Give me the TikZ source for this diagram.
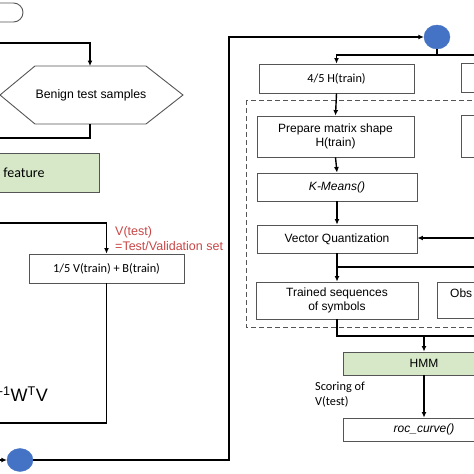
\documentclass[tikz,border=0pt]{standalone}
\usepackage{fontspec}
\setmainfont{Liberation Sans}
\newfontfamily\calibrifont{Carlito}
\usetikzlibrary{arrows.meta,shapes.geometric}
\definecolor{boxline}{RGB}{85,85,85}
\definecolor{greenfill}{RGB}{214,232,200}
\definecolor{bluedot}{RGB}{68,114,196}
\definecolor{redtext}{RGB}{200,70,70}
\tikzset{
  box/.style={draw=boxline, line width=0.9pt, fill=white, inner sep=1pt, align=center,
              font=\fontsize{12}{14}\selectfont},
  cbox/.style={box, font=\calibrifont\fontsize{12.3}{14}\selectfont},
  gbox/.style={box, fill=greenfill},
  conn/.style={line width=1.4pt, draw=black},
  arr/.style={conn, -{Latex[length=5.5pt,width=5pt]}},
  dot/.style={ellipse, fill=bluedot, draw=bluedot, inner sep=0pt},
  lbl/.style={inner sep=0pt, align=left},
}
\begin{document}
\begin{tikzpicture}[x=1pt,y=-1pt]
\useasboundingbox (0,0) rectangle (474,474);
\begin{scope}
\clip (0,0) rectangle (474,474);
% top-left rounded terminal
\node[draw=boxline, line width=0.9pt, rounded corners=9.5pt, minimum width=63, minimum height=19, inner sep=0] (start) at (-8.5,12.5) {};
% hexagon
\node[minimum width=183, minimum height=58, inner sep=0, font=\fontsize{12.3}{14}\selectfont] (hex) at (91,95) {Benign test samples};
\draw[draw=boxline, line width=0.9pt] (0,95) -- (35,66) -- (146,66) -- (183,95) -- (146,124) -- (35,124) -- cycle;
\coordinate (c1) at (-3,43);
\coordinate (hexN) at (90,66);
\coordinate (hexS) at (90,124);
\draw[arr] (c1) -| (hexN);
\coordinate (c2) at (-3,138);
\draw[conn] (hexS) |- (c2);
% feature box
\node[gbox, minimum width=150, minimum height=39, font=\calibrifont\fontsize{14}{16}\selectfont] (feat) at (24,172.5) {feature};
% 1/5 box
\node[cbox, minimum width=155, minimum height=29] (b15) at (106.5,268.5) {1/5 V(train) + B(train)};
\coordinate (c3) at (-3,223);
\draw[arr] (c3) -| (b15.north);
\coordinate (c4) at (-3,423);
\draw[conn] (b15.south) |- (c4);
\node[lbl, anchor=east, font=\fontsize{18}{20}\selectfont] (form) at (48,396) {(W\textsuperscript{T}W)\textsuperscript{-1}W\textsuperscript{T}V};
\node[lbl, anchor=west, text=redtext, font=\fontsize{12.5}{14}\selectfont] (vt) at (115,232) {V(test)};
\node[lbl, anchor=west, text=redtext, font=\fontsize{12.5}{14}\selectfont] (tv) at (115,246) {=Test/Validation set};
% blue dots
\node[dot, minimum width=26, minimum height=23] (bc) at (20,460) {};
\node[dot, minimum width=26, minimum height=24] (tc) at (437,37) {};
\coordinate (c5) at (-3,460);
\draw[arr] (c5) -- (bc.west);
\coordinate (turn) at (229,460);
\draw[arr] (bc.east) -- (turn) |- (tc.west);
% right column
\node[cbox, minimum width=155, minimum height=29] (b45) at (336.5,78.5) {4/5 H(train)};
\node[box, minimum width=70, minimum height=29] (rb1) at (496,77.5) {};
\draw[draw=boxline, line width=0.9pt, dashed, dash pattern=on 5pt off 3pt] (246,100) rectangle (480,327);
\node[box, minimum width=157, minimum height=41] (prep) at (335.5,136.5) {Prepare matrix shape\\H(train)};
\node[box, minimum width=70, minimum height=42] (rb2) at (496,136) {};
\node[box, minimum width=160, minimum height=28, font=\itshape\fontsize{12}{14}\selectfont] (km) at (337,187) {K-Means()};
\node[box, minimum width=160, minimum height=28] (vq) at (337,239) {Vector Quantization};
\node[box, minimum width=162, minimum height=37] (tr) at (337,300.5) {Trained sequences\\of symbols};
\node[box, minimum width=162, minimum height=36] (obs) at (518,300) {};
\node[lbl, anchor=west, font=\fontsize{12}{14}\selectfont] (obst) at (450,293) {Obs};
\node[gbox, minimum width=162, minimum height=23] (hmm) at (424,363.5) {HMM};
\node[box, minimum width=162, minimum height=23, font=\itshape\fontsize{12}{14}\selectfont] (roc) at (424,429.5) {roc\_curve()};
% connectors right
\coordinate (j1) at (437,55);
\coordinate (r1) at (476,55);
\draw[conn] (tc.south) -- (j1) -- (r1);
\draw[arr] (j1) -| (b45.north);
\draw[arr] (b45.south) -- (prep.north);
\draw[arr] (prep.south) -- (km.north);
\draw[arr] (km.south) -- (vq.north);
\coordinate (r2) at (476,238);
\draw[arr] (r2) -- (vq.east |- r2);
\coordinate (j2) at (337,267);
\coordinate (r3) at (476,267);
\draw[conn] (j2) -- (r3);
\draw[arr] (vq.south) -- (tr.north);
\coordinate (r4) at (476,336);
\draw[conn] (tr.south) |- (r4);
\coordinate (j3) at (424,336);
\draw[arr] (j3) -- (hmm.north);
\draw[arr] (hmm.south) -- (roc.north);
\node[lbl, anchor=north west, font=\calibrifont\fontsize{12.3}{14.5}\selectfont] (score) at (315,382) {Scoring of\\V(test)};
\end{scope}
\end{tikzpicture}
\end{document}
